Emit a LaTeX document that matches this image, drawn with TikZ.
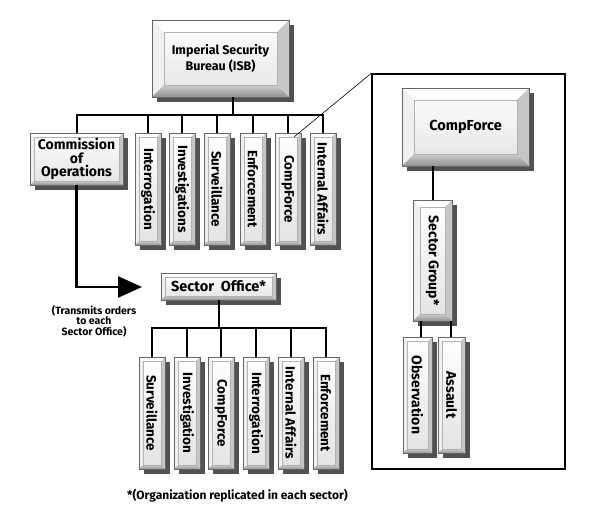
\documentclass[tikz,border=0pt]{standalone}
\usepackage{fontspec}
\setmainfont{Fira Sans}
\usetikzlibrary{shadows,calc,arrows.meta}
\tikzset{
  bevel/.store in=\bevw, bevel=4pt,
  bev/.style={draw=black!60, line width=0.4pt, top color=white, bottom color=gray!22, inner sep=0pt, align=center,
    drop shadow={shadow xshift=4.5pt, shadow yshift=-4.5pt, fill=black!80, opacity=0.85},
    path picture={
      \fill[white] (path picture bounding box.north west) -- (path picture bounding box.north east)
        -- ([xshift=-\bevw,yshift=-\bevw]path picture bounding box.north east)
        -- ([xshift=\bevw,yshift=-\bevw]path picture bounding box.north west) -- cycle;
      \fill[gray!12] (path picture bounding box.north west) -- (path picture bounding box.south west)
        -- ([xshift=\bevw,yshift=\bevw]path picture bounding box.south west)
        -- ([xshift=\bevw,yshift=-\bevw]path picture bounding box.north west) -- cycle;
      \fill[gray!45] (path picture bounding box.north east) -- (path picture bounding box.south east)
        -- ([xshift=-\bevw,yshift=\bevw]path picture bounding box.south east)
        -- ([xshift=-\bevw,yshift=-\bevw]path picture bounding box.north east) -- cycle;
      \shade[top color=gray!40, bottom color=gray!85] (path picture bounding box.south west) -- (path picture bounding box.south east)
        -- ([xshift=-\bevw,yshift=\bevw]path picture bounding box.south east)
        -- ([xshift=\bevw,yshift=\bevw]path picture bounding box.south west) -- cycle;
      \draw[gray!60, line width=0.3pt] ([xshift=\bevw,yshift=\bevw]path picture bounding box.south west) rectangle ([xshift=-\bevw,yshift=-\bevw]path picture bounding box.north east);
    }},
  bigf/.style={font=\fontsize{12.5}{16}\selectfont\bfseries},
  comf/.style={font=\fontsize{14}{13.5}\selectfont\bfseries},
  cff/.style={font=\fontsize{14.5}{16}\selectfont\bfseries},
  sof/.style={font=\fontsize{14.5}{16}\selectfont\bfseries},
  sgf/.style={font=\fontsize{14}{16}\selectfont\bfseries},
  vf/.style={font=\fontsize{13.5}{16}\selectfont\bfseries},
  smallf/.style={font=\fontsize{10.5}{10.5}\selectfont\bfseries},
  footf/.style={font=\fontsize{12}{13}\selectfont\bfseries},
  vbox/.style={bev, vf, minimum width=26pt, minimum height=112pt},
  conn/.style={line width=2pt},
}
\begin{document}
\begin{tikzpicture}[x=1pt,y=-1pt]
\useasboundingbox (0,0) rectangle (597,520);
% top part
\node[bev, bevel=12pt, minimum width=137pt, minimum height=77pt, bigf] (isb) at (220.5,58.5) {Imperial Security\\Bureau (ISB)};
\node[bev, minimum width=93pt, minimum height=52pt, comf] (com) at (76.5,159) {Commission\\of\\Operations};
\foreach \x/\t/\n in {148/Interrogation/t1, 182/Investigations/t2, 217/Surveillance/t3, 253/Enforcement/t4, 288/CompForce/t5, 323/Internal Affairs/t6}
  \node[vbox] (\n) at (\x,189) {\rotatebox{-90}{\t}};
\coordinate (j1) at (233,115);
\draw[conn] (isb.south -| j1) -- (j1);
\draw[conn] (com.north) |- (t6.north |- j1) -- (t6.north);
\foreach \n in {t1,t2,t3,t4,t5}
  \draw[conn] (\n.north) -- (\n.north |- j1);
% sector office
\node[bev, minimum width=115pt, minimum height=27pt, sof] (so) at (218.5,286.5) {Sector\ \ Office*};
\coordinate (tip) at (142,287);
\draw[line width=2.5pt, -{Triangle[length=24pt,width=21pt]}] (com.south) |- (tip);
\foreach \x/\t/\n in {152/Surveillance/b1, 187/Investigation/b2, 221/CompForce/b3, 256/Interrogation/b4, 291/Internal Affairs/b5, 326/Enforcement/b6}
  \node[vbox] (\n) at (\x,413) {\rotatebox{-90}{\t}};
\coordinate (j2) at (220,328);
\draw[conn] (so.south) -- (so.south |- j2);
\draw[conn] (b1.north) |- (b6.north |- j2) -- (b6.north);
\foreach \n in {b2,b3,b4,b5}
  \draw[conn] (\n.north) -- (\n.north |- j2);
\node[smallf, align=center] (tr) at (94,321) {(Transmits orders\\to each\\Sector Office)};
\node[footf] (fn) at (237.5,496) {*(Organization replicated in each sector)};
% detail frame
\node[draw, line width=1.5pt, minimum width=193pt, minimum height=395pt, inner sep=0pt] (frame) at (468.5,271.5) {};
\draw[line width=0.6pt] ($(t5.north east)+(-7,4)$) -- (frame.north west);
\node[bev, bevel=12pt, minimum width=127pt, minimum height=78pt, cff] (cf) at (465.5,127) {CompForce};
\node[bev, bevel=7pt, minimum width=39pt, minimum height=121pt, sgf] (sg) at (432.5,260.5) {\rotatebox{-90}{Sector Group*}};
\draw[conn] (sg.north) -- (sg.north |- cf.south);
\node[bev, sgf, minimum width=29pt, minimum height=116pt] (obs) at (417.5,395) {\rotatebox{-90}{Observation}};
\node[bev, sgf, minimum width=27pt, minimum height=116pt] (asl) at (451.5,395) {\rotatebox{-90}{Assault}};
\draw[conn] ($(obs.north)+(3,0)$) -- ($(obs.north |- sg.south)+(3,0)$);
\draw[conn] ($(asl.north)+(-1,0)$) -- ($(asl.north |- sg.south)+(-1,0)$);
\end{tikzpicture}
\end{document}
